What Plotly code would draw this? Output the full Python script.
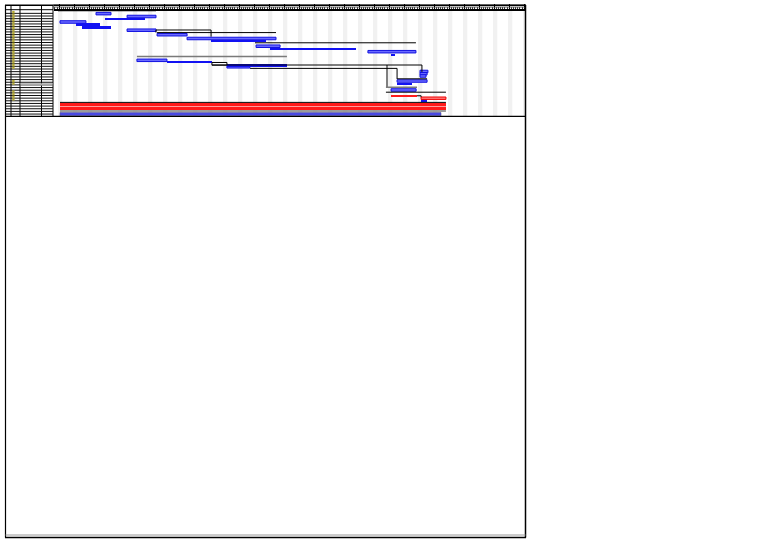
import plotly.graph_objects as go

W, H = 768, 543

# ---------------- data (days from project start, row positions) ----------------
# light (outlined) task bars
light_start = [18.2, 32.7, 1.4, 32.7, 46.7, 60.7, 92.9, 145.1, 37.3, 79.3, 169.4, 169.4, 169.4, 158.7, 155.9]
light_dur   = [7.0, 13.5, 12.1, 13.5, 14.0, 41.5, 11.2, 22.4, 14.0, 10.7, 3.7, 3.3, 2.8, 14.0, 11.7]
light_row   = [1.11, 2.19, 4.26, 7.36, 9.06, 10.49, 13.40, 15.47, 18.72, 21.17, 22.94, 23.81, 24.64, 26.53, 29.92]

# solid task bars
solid_start = [22.4, 8.9, 11.7, 71.9, 99.4, 155.9, 51.3, 79.3, 158.7, 169.9]
solid_dur   = [18.7, 11.2, 13.5, 25.6, 40.1, 1.9, 21.0, 28.0, 7.0, 2.8]
solid_row   = [3.23, 5.21, 6.34, 11.32, 14.42, 16.60, 19.43, 20.68, 27.74, 33.89]

# critical (red) bars
red_start = [155.9]
red_dur   = [12.1]
red_row   = [32.11]
redlight_start = [169.9]
redlight_dur   = [11.6]
redlight_row   = [33.02]

# project-level bars
total_red_start, total_red_dur, total_red_row = 1.4, 180.1, 36.26
total_blue_start, total_blue_dur, total_blue_row = 1.4, 177.8, 39.06

# white outlined box
box_start, box_dur, box_row = 72.3, 7.0, 20.04

# black summary / link lines: (start day, end day, row)
black_lines = [(46.2, 71.9, 7.28), (46.7, 102.2, 8.26), (92.4, 167.5, 12.11),
               (72.3, 170.3, 20.49), (90.1, 158.7, 21.77), (158.7, 172.7, 25.70),
               (153.5, 181.5, 30.75), (1.4, 181.5, 34.60), (168.0, 169.9, 32.11)]
# vertical connectors: (day, row from, row to)
black_vlines = [(46.2, 7.28, 8.26), (71.9, 7.28, 9.80), (154.0, 20.49, 29.17),
                (158.7, 21.77, 25.80), (170.3, 20.49, 23.10), (169.9, 32.11, 32.60)]
# gray summary lines
gray_lines = [(37.3, 107.3, 17.28), (153.5, 168.0, 28.90), (1.4, 181.5, 37.85)]

# ---------------- geometry ----------------
ROW_PX, ROW0_PX = 2.65, 10.7
DAY_PX, X0_PX = 15 / 7, 57
GL, GR, GT, GB = 53.5, 526, 10.5, 116.3


def px(x):
    return x / W


def py(y):
    return 1 - y / H


fig = go.Figure()


def bars(start, dur, row, thick, fill, line=None, lw=0):
    fig.add_trace(go.Bar(orientation="h", base=start, x=dur, y=row,
                         width=[thick] * len(start),
                         marker=dict(color=fill, line=dict(color=line or fill, width=lw)),
                         hoverinfo="skip"))


bars(light_start, light_dur, light_row, 0.95, "#6a6aff", "#1010e0", 1)
bars(solid_start, solid_dur, solid_row, 0.85, "#1212f2")
bars([box_start], [box_dur], [box_row], 1.0, "white", "black", 1)
bars(red_start, red_dur, red_row, 0.68, "#ff1c1c")
bars(redlight_start, redlight_dur, redlight_row, 0.9, "#ff7a7a", "#f00000", 1)
bars([total_red_start], [total_red_dur], [total_red_row], 2.6, "#ff1a1a")
bars([total_red_start], [total_red_dur], [total_red_row - 0.1], 0.38, "#ff9a9a")
bars([total_blue_start], [total_blue_dur], [total_blue_row], 1.25, "#4848e4", "#5a5a8a", 0.6)


def seg_trace(segs, color, width, vertical=False):
    xs, ys = [], []
    for s in segs:
        if vertical:
            xs += [s[0], s[0], None]
            ys += [s[1], s[2], None]
        else:
            xs += [s[0], s[1], None]
            ys += [s[2], s[2], None]
    fig.add_trace(go.Scatter(x=xs, y=ys, mode="lines", line=dict(color=color, width=width),
                             hoverinfo="skip"))


seg_trace(black_lines, "black", 1)
seg_trace(black_vlines, "black", 1, vertical=True)
seg_trace(gray_lines, "#7a7a7a", 1.6)

shapes = []
# weekend shading stripes
d = 0.47
xmax = (GR - X0_PX) / DAY_PX
while d < xmax:
    shapes.append(dict(type="rect", xref="x", yref="paper", x0=d, x1=min(d + 2, xmax),
                       y0=py(GB), y1=py(GT), fillcolor="#f1f1f1", line=dict(width=0), layer="below"))
    d += 7

def pline(x0, y0, x1, y1, color="black", w=1):
    shapes.append(dict(type="line", xref="paper", yref="paper", x0=px(x0), y0=py(y0),
                       x1=px(x1), y1=py(y1), line=dict(color=color, width=w)))

# header band
pline(GL, 5.5, GR, 5.5, "black", 1.5)
pline(GL, 7.6, GR, 7.6, "#555", 0.6)
pline(58, 10.2, 156, 10.2, "black", 2)

# table
cols = [5.5, 11, 20, 41.5, 53]
for c in cols:
    pline(c, 5.5, c, GB, "black", 1)
pline(5.5, 5.5, 53, 5.5, "black", 1)
pline(5.5, 9.7, 53, 9.7, "black", 1)
for k in range(1, 40):
    y = ROW0_PX + ROW_PX * k
    pline(5.5, y, 53, y, "#111", 1)
# gray shaded table row
shapes.append(dict(type="rect", xref="paper", yref="paper", x0=px(20.5), x1=px(52.5),
                   y0=py(85.5), y1=py(83.2), fillcolor="#a8a8a8", line=dict(width=0)))
# indicator icons
icon_rows = list(range(0, 22)) + [26, 27, 30, 31, 32, 33]
for r in icon_rows:
    yc = ROW0_PX + ROW_PX * (r + 0.5)
    shapes.append(dict(type="rect", xref="paper", yref="paper", x0=px(12.2), x1=px(14.6),
                       y0=py(yc + 1.1), y1=py(yc - 1.1), fillcolor="#b3a832", line=dict(width=0)))

# separator under gantt and frame
pline(5, GB, 526, GB, "black", 1.2)
pline(5.5, 5, 5.5, 537.5, "black", 1.2)
pline(525.5, 5, 525.5, 537.5, "black", 1.5)
pline(5, 5, 526, 5, "black", 1)
pline(5.5, 535, 525.5, 535, "#9a9a9a", 1)
pline(5, 537.5, 526, 537.5, "black", 1.5)

fig.update_layout(
    width=W, height=H, margin=dict(l=0, r=0, t=0, b=0),
    paper_bgcolor="white", plot_bgcolor="white",
    barmode="overlay", bargap=0, showlegend=False, hovermode=False,
    shapes=shapes,
    xaxis=dict(domain=[px(GL), px(GR)], range=[(GL - X0_PX) / DAY_PX, xmax],
               side="top", showline=True, linecolor="black", linewidth=1.5,
               ticks="outside", ticklen=5, tickcolor="black", tickwidth=1,
               tick0=1.0, dtick=7, showticklabels=False, showgrid=False, zeroline=False,
               minor=dict(ticks="outside", ticklen=2.2, tickcolor="#333", dtick=1, tick0=1.0,
                          showgrid=False)),
    yaxis=dict(domain=[py(GB), py(GT)],
               range=[(GB - ROW0_PX) / ROW_PX, (GT - ROW0_PX) / ROW_PX],
               showticklabels=False, showgrid=False, zeroline=False, ticks=""),
)

fig.write_html("out.html", config={"staticPlot": True},
               post_script="document.body.style.margin='0';document.body.style.padding='0';")
